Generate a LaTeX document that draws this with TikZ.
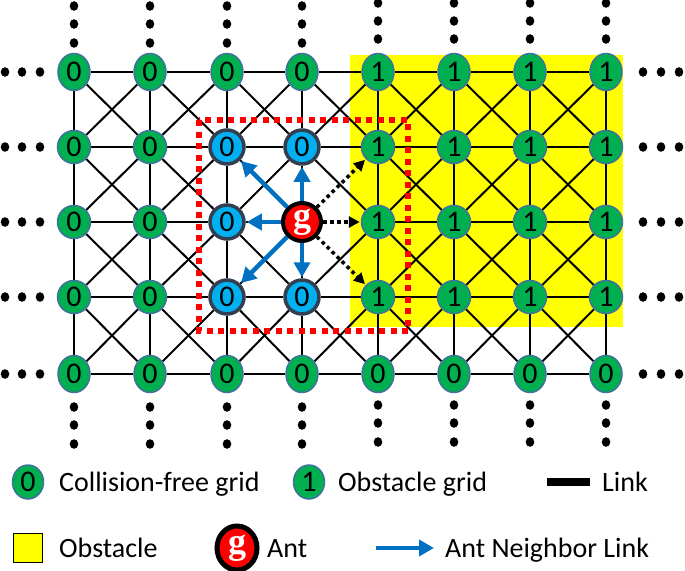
\documentclass[tikz,border=0pt]{standalone}
\usepackage{fontspec}
\setmainfont{Carlito}
\newfontfamily\antfont{Liberation Serif}
\usetikzlibrary{arrows.meta,shapes.geometric}
\pgfdeclarelayer{bg}
\pgfsetlayers{bg,main}
\definecolor{gfill}{HTML}{00B050}
\definecolor{gborder}{HTML}{41719C}
\definecolor{bfill}{HTML}{00B0F0}
\definecolor{bborder}{HTML}{333F50}
\definecolor{arrblue}{HTML}{0070C0}
\definecolor{obsyellow}{HTML}{FFFF00}
\definecolor{antred}{HTML}{FF0000}
\tikzset{
  digitfont/.style={font=\fontsize{30}{30}\selectfont},
  gnode/.style={circle, fill=gfill, draw=gborder, line width=1.5pt, minimum size=33pt, inner sep=0pt, digitfont},
  tallnode/.style={ellipse, fill=gfill, draw=gborder, line width=1.5pt, minimum width=32pt, minimum height=37pt, inner sep=0pt, digitfont},
  bnode/.style={circle, fill=bfill, draw=bborder, line width=3.5pt, minimum size=34pt, inner sep=0pt, digitfont},
  antnode/.style={circle, fill=antred, draw=black, line width=4pt, minimum size=38pt, inner sep=0pt, text=white, font=\antfont\fontsize{36}{36}\bfseries},
  link/.style={black, line width=2pt},
  nbarrow/.style={arrblue, line width=4.5pt, -{Triangle[length=15pt,width=16pt]}, shorten >=1pt},
  dotarrow/.style={black, line width=3.5pt, dash pattern=on 3.5pt off 3.5pt, -{Triangle[length=11pt,width=11pt]}, shorten >=1pt},
  dotmark/.style={black},
  legtext/.style={anchor=base west, inner sep=0pt, font=\fontsize{28}{28}\selectfont}
}
\begin{document}
\begin{tikzpicture}[x=1pt,y=-1pt]
\useasboundingbox (0,0) rectangle (685,570);

% ---- grid nodes ----
\foreach \c/\x in {1/74,2/150,3/227,4/302}{
  \node[tallnode] (n\c1) at (\x,72) {0};
}
\foreach \c/\x in {5/378,6/454,7/530,8/606}{
  \node[tallnode] (n\c1) at (\x,72) {1};
  \foreach \r/\y in {2/147,3/222,4/297}{
    \node[gnode] (n\c\r) at (\x,\y) {1};
  }
}
\foreach \c/\x in {1/74,2/150}{
  \foreach \r/\y in {2/147,3/222,4/297}{
    \node[gnode] (n\c\r) at (\x,\y) {0};
  }
}
\node[bnode] (n32) at (227,147) {0};
\node[bnode] (n42) at (302,147) {0};
\node[bnode] (n33) at (227,222) {0};
\node[antnode] (n43) at (302,222) {g};
\node[bnode] (n34) at (227,297) {0};
\node[bnode] (n44) at (302,297) {0};
\foreach \c/\x in {1/74,2/150,3/227,4/302,5/378,6/454,7/530,8/606}{
  \node[tallnode] (n\c5) at (\x,374) {0};
}

% ---- background: obstacle, links, window ----
\begin{pgfonlayer}{bg}
\fill[obsyellow] (350,55) rectangle (623,327);
\foreach \c [evaluate=\c as \d using int(\c+1)] in {1,...,7}{
  \foreach \r in {1,...,5}{
    \ifnum\c\r=43 \else \draw[link] (n\c\r) -- (n\d\r);\fi
  }
}
\foreach \c in {1,...,8}{
  \foreach \r [evaluate=\r as \s using int(\r+1)] in {1,...,4}{
    \draw[link] (n\c\r) -- (n\c\s);
  }
}
\foreach \c [evaluate=\c as \d using int(\c+1)] in {1,...,7}{
  \foreach \r [evaluate=\r as \s using int(\r+1)] in {1,...,4}{
    \ifnum\c\r=43 \else \draw[link] (n\c\r) -- (n\d\s);\fi
    \ifnum\c\r=42 \else \draw[link] (n\d\r) -- (n\c\s);\fi
  }
}
\draw[antred, line width=5.5pt, dash pattern=on 6pt off 5.5pt] (199,120) rectangle (408,331);
\end{pgfonlayer}

% ---- ant neighbour links ----
\foreach \t in {n42,n32,n33,n34,n44}{
  \draw[nbarrow] (n43) -- (\t);
}
\foreach \t in {n52,n53,n54}{
  \draw[dotarrow] (n43) -- (\t);
}

% ---- continuation dots ----
\foreach \y in {72,147,222,297,374}{
  \foreach \x in {5,22,40,643,661,679}{
    \fill[dotmark] (\x,\y) ellipse [x radius=4.3pt, y radius=4.8pt];
  }
}
\foreach \x in {74,150,227,302}{
  \foreach \y in {6,24,43,407,425,444}{
    \fill[dotmark] (\x,\y) ellipse [x radius=4.3pt, y radius=4.8pt];
  }
}
\foreach \x in {378,454,530,606}{
  \foreach \y in {3,21,39,405,423,442}{
    \fill[dotmark] (\x,\y) ellipse [x radius=4.3pt, y radius=4.8pt];
  }
}

% ---- legend ----
\node[tallnode, minimum width=31pt, minimum height=34pt] (l0) at (28,482) {0};
\node[legtext] (l0t) at (59,491) {Collision-free grid};
\node[tallnode, minimum width=31pt, minimum height=34pt] (l1) at (309,482) {1};
\node[legtext] (l1t) at (338,491) {Obstacle grid};
\coordinate (lla) at (547,482);
\coordinate (llb) at (590,482);
\draw[black, line width=8pt] (lla) -- (llb);
\node[legtext] (llt) at (602,491) {Link};
\node[draw=black, line width=1pt, fill=obsyellow, minimum width=29pt, minimum height=29pt, inner sep=0pt] (ly) at (28,548) {};
\node[legtext] (lyt) at (59,557) {Obstacle};
\node[antnode, minimum width=40pt, minimum height=44pt, ellipse, line width=5pt] (la) at (237,548) {g};
\node[legtext] (lat) at (267,557) {Ant};
\coordinate (lba) at (376,548);
\coordinate (lbb) at (434,548);
\draw[nbarrow, shorten >=0pt] (lba) -- (lbb);
\node[legtext] (lbt) at (445,557) {Ant Neighbor Link};
\end{tikzpicture}
\end{document}
